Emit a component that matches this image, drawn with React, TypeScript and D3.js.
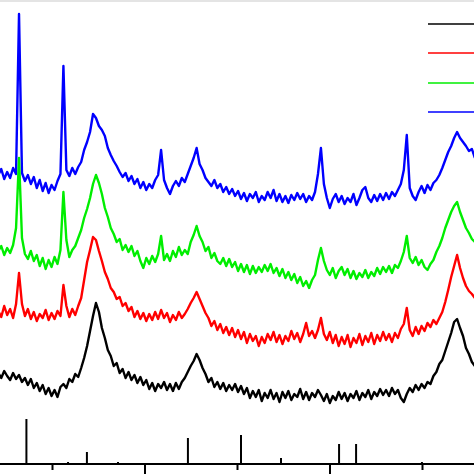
import React from 'react';
import * as d3 from 'd3';

// 2θ sampling grid of the scan
const TWO_THETA_START = 12.07;
const TWO_THETA_STEP = 0.16;

// Intensities (a.u., stacked with vertical offsets)
const blackSeries = [
  91, 86, 93, 88, 84, 91, 85, 89, 82, 86,
  79, 85, 76, 81, 73, 79, 70, 76, 68, 74,
  67, 77, 80, 76, 85, 82, 90, 87, 96, 106,
  118, 133, 148, 161, 152, 136, 126, 114, 108, 98,
  101, 91, 95, 86, 92, 84, 89, 81, 87, 79,
  84, 75, 81, 73, 80, 76, 82, 74, 80, 73,
  81, 75, 82, 86, 92, 98, 103, 110, 104, 96,
  90, 82, 86, 77, 82, 75, 81, 73, 79, 74,
  80, 72, 78, 70, 76, 66, 73, 67, 74, 63,
  71, 66, 74, 65, 71, 62, 72, 66, 73, 64,
  70, 67, 75, 65, 72, 64, 71, 67, 74, 69,
  63, 70, 61, 68, 64, 72, 65, 71, 63, 70,
  66, 73, 64, 71, 67, 74, 65, 72, 68, 75,
  69, 74, 68, 76, 70, 74, 66, 62, 70, 76,
  72, 79, 74, 80, 76, 82, 80, 88, 92, 100,
  104, 113, 122, 131, 142, 145, 136, 128, 116, 110,
  102, 98,
];

const redSeries = [
  153, 147, 158, 149, 155, 146, 160, 191, 160, 148,
  155, 145, 152, 143, 150, 146, 154, 144, 151, 145,
  153, 148, 179, 158, 147, 155, 149, 158, 166, 184,
  202, 214, 227, 224, 213, 203, 192, 185, 176, 172,
  165, 167, 158, 161, 153, 157, 147, 153, 145, 151,
  143, 150, 144, 152, 145, 154, 146, 151, 142, 149,
  144, 152, 146, 150, 155, 161, 166, 172, 165, 158,
  151, 146, 138, 143, 134, 140, 131, 137, 129, 136,
  127, 134, 125, 132, 121, 130, 123, 128, 118, 127,
  121, 130, 124, 132, 122, 129, 120, 128, 123, 133,
  125, 131, 122, 130, 141, 128, 133, 126, 134, 146,
  130, 124, 132, 121, 129, 118, 127, 120, 129, 117,
  126, 121, 130, 119, 128, 122, 131, 120, 129, 123,
  132, 124, 130, 122, 131, 126, 135, 140, 156, 134,
  128, 137, 130, 138, 133, 141, 137, 144, 140, 146,
  152, 162, 174, 187, 198, 209, 196, 186, 178, 173,
  170, 166,
];

const greenSeries = [
  213, 218, 209, 216, 211, 219, 236, 306, 226, 210,
  205, 213, 203, 209, 198, 206, 195, 204, 197, 207,
  200, 214, 272, 224, 207, 214, 218, 226, 234, 246,
  255, 266, 280, 289, 281, 270, 256, 247, 236, 230,
  222, 225, 214, 219, 212, 218, 208, 213, 203, 196,
  206, 200, 208, 202, 210, 228, 204, 210, 203, 213,
  207, 217, 209, 214, 210, 222, 229, 238, 228, 222,
  213, 217, 206, 211, 203, 200, 206, 198, 205, 197,
  202, 193, 200, 192, 199, 190, 198, 191, 197, 192,
  199, 193, 200, 191, 196, 188, 195, 186, 192, 184,
  190, 181, 187, 178, 183, 176, 184, 189, 204, 216,
  203, 194, 189, 196, 186, 193, 197, 189, 195, 186,
  193, 185, 191, 187, 194, 186, 192, 188, 196, 190,
  197, 192, 198, 191, 199, 196, 203, 212, 228, 206,
  201, 207, 199, 204, 197, 194, 200, 204, 212, 218,
  226, 236, 244, 252, 258, 262, 252, 244, 236, 231,
  225, 222,
];

const blueSeries = [
  289, 295, 285, 292, 286, 296, 290, 450, 291, 283,
  289, 280, 287, 276, 284, 273, 281, 271, 279, 274,
  283, 290, 398, 294, 288, 296, 290, 297, 302, 314,
  322, 332, 350, 346, 338, 334, 328, 316, 309, 303,
  298, 292, 287, 291, 283, 288, 280, 285, 276, 282,
  274, 280, 276, 284, 289, 314, 284, 276, 270, 278,
  283, 278, 286, 282, 290, 298, 306, 316, 300, 294,
  286, 282, 278, 284, 276, 280, 272, 277, 270, 275,
  268, 273, 265, 271, 263, 270, 266, 272, 262, 268,
  264, 272, 266, 274, 263, 270, 262, 268, 261, 269,
  264, 271, 265, 270, 262, 268, 264, 272, 290, 316,
  280, 266, 256, 265, 270, 262, 268, 260, 266, 262,
  270, 259, 266, 274, 277, 266, 262, 269, 263, 270,
  264, 271, 265, 272, 268, 274, 280, 294, 329, 276,
  268, 264, 272, 278, 271, 279, 274, 281, 284, 289,
  296, 304, 312, 318, 326, 332, 326, 322, 318, 313,
  315, 306,
];

// Reference (standard card) diffraction lines
const refPositions = [13.59, 15.84, 16.86, 18.54, 22.32, 25.19, 26.49, 27.35, 30.49, 31.41, 32.7, 34.97];
const refIntensities = [45, 2, 12, 2, 26, 29, 1, 6, 20, 20, 1, 2];

const majorTicks = [20, 30];
const minorTicks = [15, 25, 35];

const seriesColors = ['#000000', '#ff0000', '#00ee00', '#0000ff'];

const W = 474;
const H = 474;

export default function App() {
  const x = d3.scaleLinear().domain([20, 30]).range([145, 330]);
  const y = d3.scaleLinear().domain([0, 450]).range([464, 14]);
  const twoTheta = blackSeries.map((_, i) => TWO_THETA_START + i * TWO_THETA_STEP);
  const line = d3
    .line<number>()
    .x((_, i) => x(twoTheta[i]))
    .y((d) => y(d));

  const drawOrder = [
    { data: blueSeries, color: seriesColors[3] },
    { data: greenSeries, color: seriesColors[2] },
    { data: redSeries, color: seriesColors[1] },
    { data: blackSeries, color: seriesColors[0] },
  ];
  const legendY = [24, 53, 83, 112];

  return (
    <svg
      width={W}
      height={H}
      style={{ position: 'absolute', left: 0, top: 0, display: 'block', background: '#fff' }}
    >
      <rect x={0} y={0} width={W} height={2} fill="#e4e4e4" />
      {drawOrder.map((s, k) => (
        <path
          key={k}
          d={line(s.data) || ''}
          fill="none"
          stroke={s.color}
          strokeWidth={2.4}
          strokeLinejoin="round"
        />
      ))}
      {refPositions.map((p, i) => (
        <line
          key={'r' + i}
          x1={x(p)}
          x2={x(p)}
          y1={y(0)}
          y2={y(refIntensities[i])}
          stroke="#000"
          strokeWidth={2}
        />
      ))}
      <line x1={0} x2={W} y1={y(0)} y2={y(0)} stroke="#000" strokeWidth={2} />
      {majorTicks.map((t) => (
        <line key={'M' + t} x1={x(t)} x2={x(t)} y1={y(0)} y2={y(0) + 12} stroke="#000" strokeWidth={2} />
      ))}
      {minorTicks.map((t) => (
        <line key={'m' + t} x1={x(t)} x2={x(t)} y1={y(0)} y2={y(0) + 6} stroke="#000" strokeWidth={2} />
      ))}
      {seriesColors.map((c, i) => (
        <line key={'l' + i} x1={428} x2={W + 10} y1={legendY[i]} y2={legendY[i]} stroke={c} strokeWidth={1.5} />
      ))}
    </svg>
  );
}
